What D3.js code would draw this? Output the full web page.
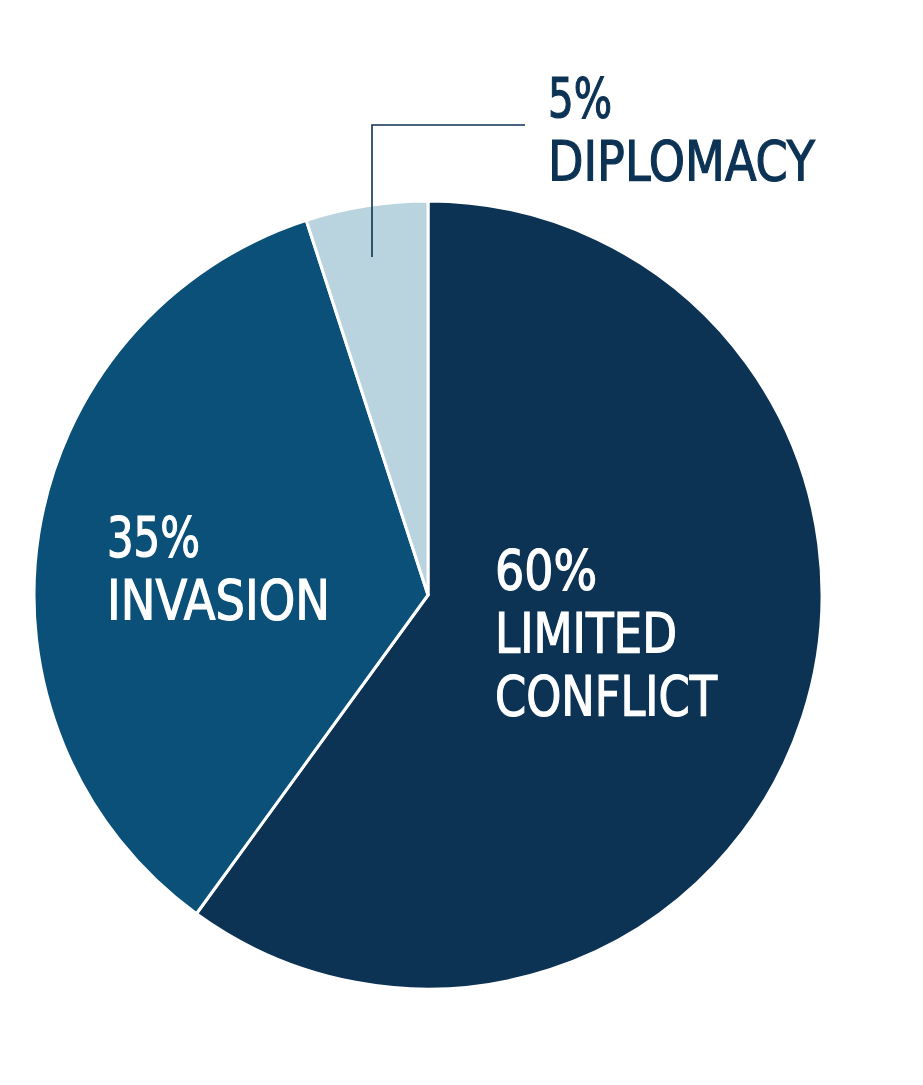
<!DOCTYPE html>
<html>
<head>
<meta charset="utf-8">
<script src="https://cdn.jsdelivr.net/npm/d3@7"></script>
<style>
html,body{margin:0;padding:0;background:#fff;}
svg{display:block;}
text{font-family:"Liberation Sans Narrow","DejaVu Sans Condensed","Roboto",sans-serif;}
</style>
</head>
<body>
<svg id="chart" width="923" height="1085"></svg>
<script>
const categories = ["LIMITED CONFLICT", "INVASION", "DIPLOMACY"];
const values = [60, 35, 5];
const pctLabels = ["60%", "35%", "5%"];
const labelLines = [["LIMITED", "CONFLICT"], ["INVASION"], ["DIPLOMACY"]];
const colors = ["#0c3254", "#0a5078", "#b9d4df"];

const svg = d3.select("#chart");
const cx = 428, cy = 595, r = 394;

const pie = d3.pie().sort(null).value(d => d.value);
const data = categories.map((c, i) => ({name: c, value: values[i], i}));
const arcs = pie(data);
const arc = d3.arc().innerRadius(0).outerRadius(r);

const g = svg.append("g").attr("transform", `translate(${cx},${cy})`);
g.selectAll("path").data(arcs).join("path")
  .attr("d", arc)
  .attr("fill", d => colors[d.data.i])
  .attr("stroke", "#fff")
  .attr("stroke-width", 3)
  .attr("stroke-linejoin", "round");

// leader line for diplomacy
svg.append("path")
  .attr("d", "M372,257 V125 H525")
  .attr("fill", "none")
  .attr("stroke", "#0c3254")
  .attr("stroke-width", 1.6);

const fs = 56;
const labelSpecs = [
  {x: 495, y: 589, color: "#fff", widths: [102, 182, 222]},
  {x: 107, y: 556, color: "#fff", widths: [93, 223]},
  {x: 548, y: 117, color: "#0c3254", widths: [64, 267]}
];
const lineGap = 63;
labelSpecs.forEach((s, i) => {
  const lines = [pctLabels[i]].concat(labelLines[i]);
  lines.forEach((t, k) => {
    svg.append("text")
      .attr("x", s.x)
      .attr("y", s.y + k * lineGap)
      .attr("fill", s.color)
      .attr("stroke", s.color)
      .attr("stroke-width", 1.2)
      .attr("font-size", fs)
      .attr("textLength", s.widths[k])
      .attr("lengthAdjust", "spacingAndGlyphs")
      .text(t);
  });
});
</script>
</body>
</html>
